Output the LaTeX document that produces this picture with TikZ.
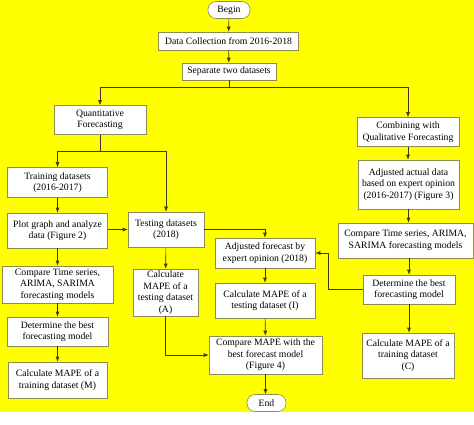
\documentclass[tikz,border=0pt]{standalone}
\usepackage{fontspec}
\setmainfont{Liberation Serif}
\usetikzlibrary{arrows.meta}
\definecolor{bg}{RGB}{255,255,0}
\definecolor{bord}{RGB}{140,140,80}
\definecolor{ln}{RGB}{60,60,20}
\tikzset{
  box/.style={draw=bord, line width=0.6pt, fill=white, align=center, inner sep=1pt,
    font=\fontsize{9.7}{11.6}\selectfont},
  term/.style={box, rounded corners=8pt},
  arr/.style={draw=ln, line width=0.6pt, -{Latex[length=5pt,width=4pt]}},
  ln/.style={draw=ln, line width=0.6pt}
}
\newcommand{\bx}[6]{\node[box, minimum width=#4pt, minimum height=#5pt] (#1) at (#2,#3) {#6};}
\begin{document}
\begin{tikzpicture}[x=1pt,y=-1pt]
\useasboundingbox (0,0) rectangle (474,424);
\fill[bg] (0,0) rectangle (474,412);
\fill[white] (0,412) rectangle (474,424);
\node[term, minimum width=42pt, minimum height=17pt] (begin) at (229,10) {Begin};
\bx{collect}{228.5}{41}{140}{18}{Data Collection from 2016-2018}
\bx{sep}{229}{71.5}{94}{17}{Separate two datasets}
\bx{quant}{100}{120}{92}{29}{Quantitative\\Forecasting}
\bx{comb}{408}{132}{102}{29}{Combining with\\Qualitative Forecasting}
\bx{train}{57.5}{182.5}{100}{30}{Training datasets\\(2016-2017)}
\bx{plot}{57.5}{230.5}{100}{35}{Plot graph and  analyze\\data (Figure 2)}
\bx{test}{166}{229.5}{76}{35}{Testing datasets\\(2018)}
\bx{cmpL}{57.5}{284.5}{111}{37}{Compare Time series,\\ARIMA, SARIMA\\forecasting models}
\bx{detL}{57.5}{331.5}{101}{29}{Determine the best\\forecasting model}
\bx{mapeM}{57.5}{380}{99}{36}{Calculate MAPE of a\\training dataset (M)}
\bx{mapeA}{165.5}{292.5}{65}{47}{Calculate\\MAPE of a\\testing dataset\\(A)}
\bx{adjF}{265}{253}{100}{30}{Adjusted forecast by\\expert opinion (2018)}
\bx{mapeI}{265}{300.5}{100}{35}{Calculate MAPE of a\\testing dataset (I)}
\bx{cmpB}{265.5}{355}{113}{38}{Compare MAPE with the\\best forecast model\\(Figure 4)}
\node[term, minimum width=39pt, minimum height=17pt] (end) at (266.5,403) {End};
\bx{adjA}{408.5}{184.5}{101}{49}{Adjusted actual data\\based on expert opinion\\(2016-2017) (Figure 3)}
\bx{cmpR}{405.5}{240.5}{135}{35}{Compare Time series, ARIMA,\\SARIMA forecasting models}
\bx{detR}{409}{289.5}{92}{29}{Determine the best\\forecasting model}
\bx{mapeC}{408}{355.5}{92}{45}{Calculate MAPE of a\\training dataset\\(C)}
% connectors
\draw[arr] (begin) -- (collect);
\draw[arr] (collect) -- (sep);
\coordinate (j1) at (229,87);
\draw[ln] (sep.south) -- (j1);
\draw[arr] (j1) -| (quant.north);
\draw[arr] (j1) -| (comb.north);
\coordinate (j2) at (100,151);
\draw[ln] (quant.south) -- (j2);
\draw[arr] (j2) -| (train.north);
\draw[arr] (j2) -| (test.north);
\draw[arr] (train) -- (plot);
\draw[arr] (plot) -- (cmpL);
\draw[arr] (cmpL) -- (detL);
\draw[arr] (detL) -- (mapeM);
\draw[arr] (plot.east |- test.west) -- (test.west);
\draw[arr] (test) -- (mapeA);
\draw[arr] (test.east) -| (adjF.north);
\draw[arr] (adjF) -- (mapeI);
\draw[arr] (mapeI) -- (cmpB);
\draw[arr] (cmpB) -- (end.north -| cmpB.south);
\draw[arr] (mapeA.south) |- (cmpB.west);
\coordinate (k) at (328,0);
\draw[arr] (detR.west) -- (detR.west -| k) |- (adjF.east);
\draw[arr] (comb.south) -- (comb.south |- adjA.north);
\draw[arr] (adjA.south) -- (adjA.south |- cmpR.north);
\draw[arr] (cmpR.south -| detR.north) -- (detR.north);
\draw[arr] (detR) -- (mapeC.north -| detR.south);
\end{tikzpicture}
\end{document}
